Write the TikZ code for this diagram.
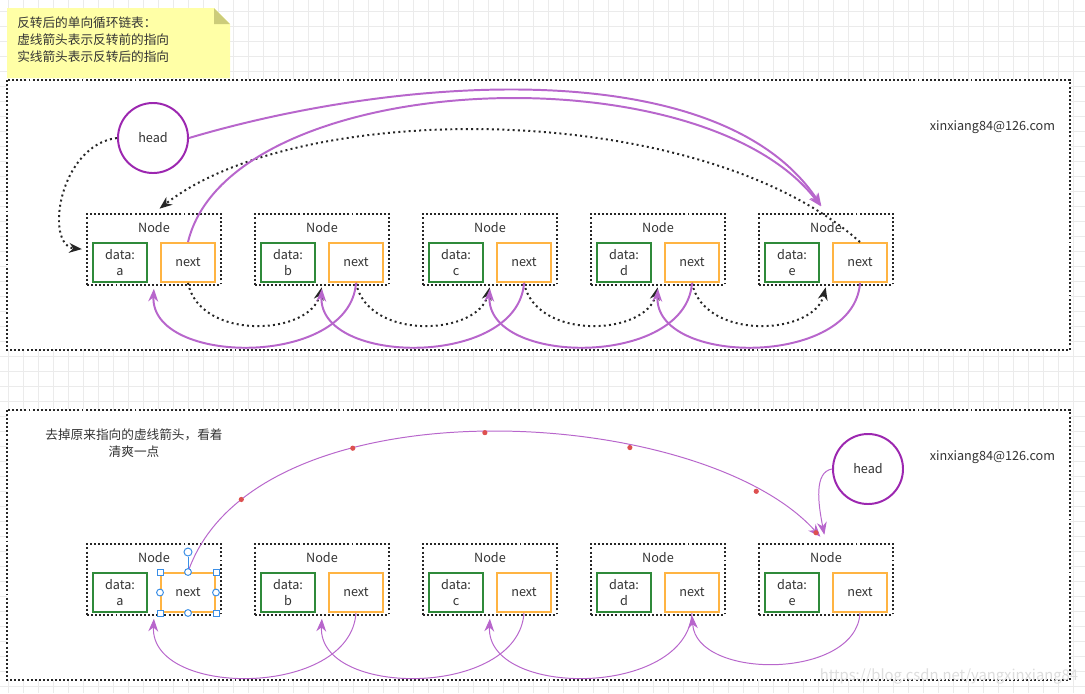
\documentclass[tikz,border=0pt]{standalone}
\usepackage{fontspec}
\setmainfont{Noto Sans CJK SC}
\usetikzlibrary{arrows.meta}

\definecolor{txtgray}{HTML}{333333}
\definecolor{dgreen}{HTML}{2F8A3A}
\definecolor{nxorange}{HTML}{FFB443}
\definecolor{hpurple}{HTML}{9C27B0}
\definecolor{lpurple}{HTML}{B866CC}
\definecolor{notefill}{HTML}{FFFFA6}
\definecolor{notefold}{HTML}{CCCC7A}
\definecolor{wpred}{HTML}{DD5050}
\definecolor{selblue}{HTML}{3A8EE6}
\definecolor{gridgray}{HTML}{EBEBEB}

\begin{document}
\begin{tikzpicture}[%
	x=0.025cm, y=-0.025cm,
	every node/.style={%
		font=\fontsize{9}{12}\selectfont,
		text=txtgray
	},
	nodebox/.style={%
		draw=black!85, line width=1.4pt, dash pattern=on 1.4pt off 1.5pt,
		minimum width=3.35cm, minimum height=1.775cm,
		label={[anchor=center, yshift=-0.36cm]north:Node}
	},
	databox/.style={%
		draw=dgreen, line width=1.4pt, align=center, inner sep=0pt,
		minimum width=1.35cm, minimum height=0.975cm
	},
	nextbox/.style={%
		draw=nxorange, line width=1.4pt, inner sep=0pt,
		minimum width=1.35cm, minimum height=0.975cm
	},
	headnode/.style={circle, draw=hpurple, line width=1.4pt, minimum size=1.75cm},
	panel/.style={draw=black!85, fill=white, line width=1.4pt, dash pattern=on 1.4pt off 1.5pt},
	oldptr/.style={draw=black!85, line width=1.4pt, dash pattern=on 1.4pt off 2.3pt,
		-{Stealth[length=9pt, width=7pt]}},
	newptr/.style={draw=lpurple, line width=1.4pt, -{Stealth[length=9pt, width=7pt]}},
	thinptr/.style={draw=lpurple, line width=0.7pt, -{Stealth[length=9pt, width=7pt]}},
	wpt/.style={circle, fill=wpred, minimum size=0.13cm, inner sep=0pt},
	handsq/.style={draw=selblue, fill=white, line width=0.7pt, minimum size=0.15cm, inner sep=0pt},
	handci/.style={circle, draw=selblue, fill=white, line width=0.7pt, minimum size=0.17cm, inner sep=0pt}
]
	\useasboundingbox (0,0) rectangle (1085,693);

	% background grid
	\foreach \gx in {8,23,...,1085}
		\draw[gridgray, line width=0.4pt] (\gx,0) -- (\gx,693);
	\foreach \gy in {11,26,...,693}
		\draw[gridgray, line width=0.4pt] (0,\gy) -- (1085,\gy);

	% note
	\fill[notefill] (7,8) -- (214,8) -- (230,24) -- (230,78) -- (7,78) -- cycle;
	\fill[notefold] (214,8) -- (230,24) -- (214,24) -- cycle;
	\node[anchor=north west, align=left, inner sep=0pt] (note) at (17,17) {%
		反转后的单向循环链表：\\
		虚线箭头表示反转前的指向\\
		实线箭头表示反转后的指向
	};

	\draw[panel] (7,80) rectangle (1070,350);
	\draw[panel] (7,410) rectangle (1070,680);

	\foreach \n [count=\i from 0, evaluate=\i as \cx using 154+168*\i] in {a,b,c,d,e} {
		\node[nodebox] (n\n) at (\cx, 249.5) {};
		\node[databox] (d\n) at (\cx-34, 262.5) {data:\\\n};
		\node[nextbox] (x\n) at (\cx+34, 262.5) {next};

		\node[nodebox] (n\n2) at (\cx, 579.5) {};
		\node[databox] (d\n2) at (\cx-34, 592.5) {data:\\\n};
		\node[nextbox] (x\n2) at (\cx+34, 592.5) {next};
	}

	\node[headnode] (hd) at (153,138) {head};
	\node[headnode] (hd2) at (868,469) {head};

	\node[anchor=east] (mail) at (1060,127) {xinxiang84@126.com};
	\node[anchor=east] (mail2) at (1060,457) {xinxiang84@126.com};
	\node[align=center] (hint) at (134,443) {去掉原来指向的虚线箭头，看着\\清爽一点};

	% before reversal
	\draw[oldptr, shorten >=3pt] (hd.west) .. controls +(-58,7) and +(-42,-4) .. (na.west);
	\draw[oldptr, shorten >=5pt] (xe.north) .. controls +(-160,-143) and +(146,-115) .. (na.north);
	\foreach \p/\q in {a/b,b/c,c/d,d/e}
		\draw[oldptr, shorten >=1pt] (x\p.south) .. controls +(12,58) and +(-12,50) .. (n\q.south);

	% after reversal
	\draw[newptr, shorten >=6pt] (hd.east) .. controls +(212,-63) and +(-106,-160) .. (ne.north);
	\draw[newptr, shorten >=6pt] (xa.north) .. controls +(42,-173) and +(-126,-165) .. (ne.north);
	\foreach \p/\q in {b/a,c/b,d/c,e/d}
		\draw[newptr, shorten >=2pt] (x\p.south) .. controls +(-6,85) and +(-4,80) .. (n\q.south);

	\draw[thinptr, shorten >=6pt] (hd2.west) .. controls +(-18,3) and +(-8,-40) .. (ne2.north);
	\draw[thinptr, shorten >=6pt] (xa2.north) .. controls +(67,-193) and +(-126,-140) .. (ne2.north)
		node[wpt, pos=0.15] (w1) {}
		node[wpt, pos=0.33] (w2) {}
		node[wpt, pos=0.5] (w3) {}
		node[wpt, pos=0.68] (w4) {}
		node[wpt, pos=0.86] (w5) {}
		node[wpt, pos=0.975] (w6) {};
	\foreach \p/\q in {b/a,c/b,d/c}
		\draw[thinptr, shorten >=2pt] (x\p2.south) .. controls +(-6,85) and +(-4,82) .. (n\q2.south);
	\draw[thinptr, shorten >=2pt] (xe2.south) .. controls +(-4,67) and +(4,67) .. (xd2.south);

	% selection handles
	\node[handci, minimum size=0.2cm] (rot) at (188,552) {};
	\draw[selblue, line width=0.7pt] (rot) -- (xa2.north);
	\foreach \a/\k in {north west/1,north east/2,south west/3,south east/4}
		\node[handsq] (hs\k) at (xa2.\a) {};
	\foreach \a/\k in {north/1,south/2,west/3,east/4}
		\node[handci] (hc\k) at (xa2.\a) {};

	\node[anchor=south east, text=black!13, font=\fontsize{10.5}{12}\selectfont] (wm) at (1083,689) {https://blog.csdn.net/yangxinxiang84};
\end{tikzpicture}
\end{document}
